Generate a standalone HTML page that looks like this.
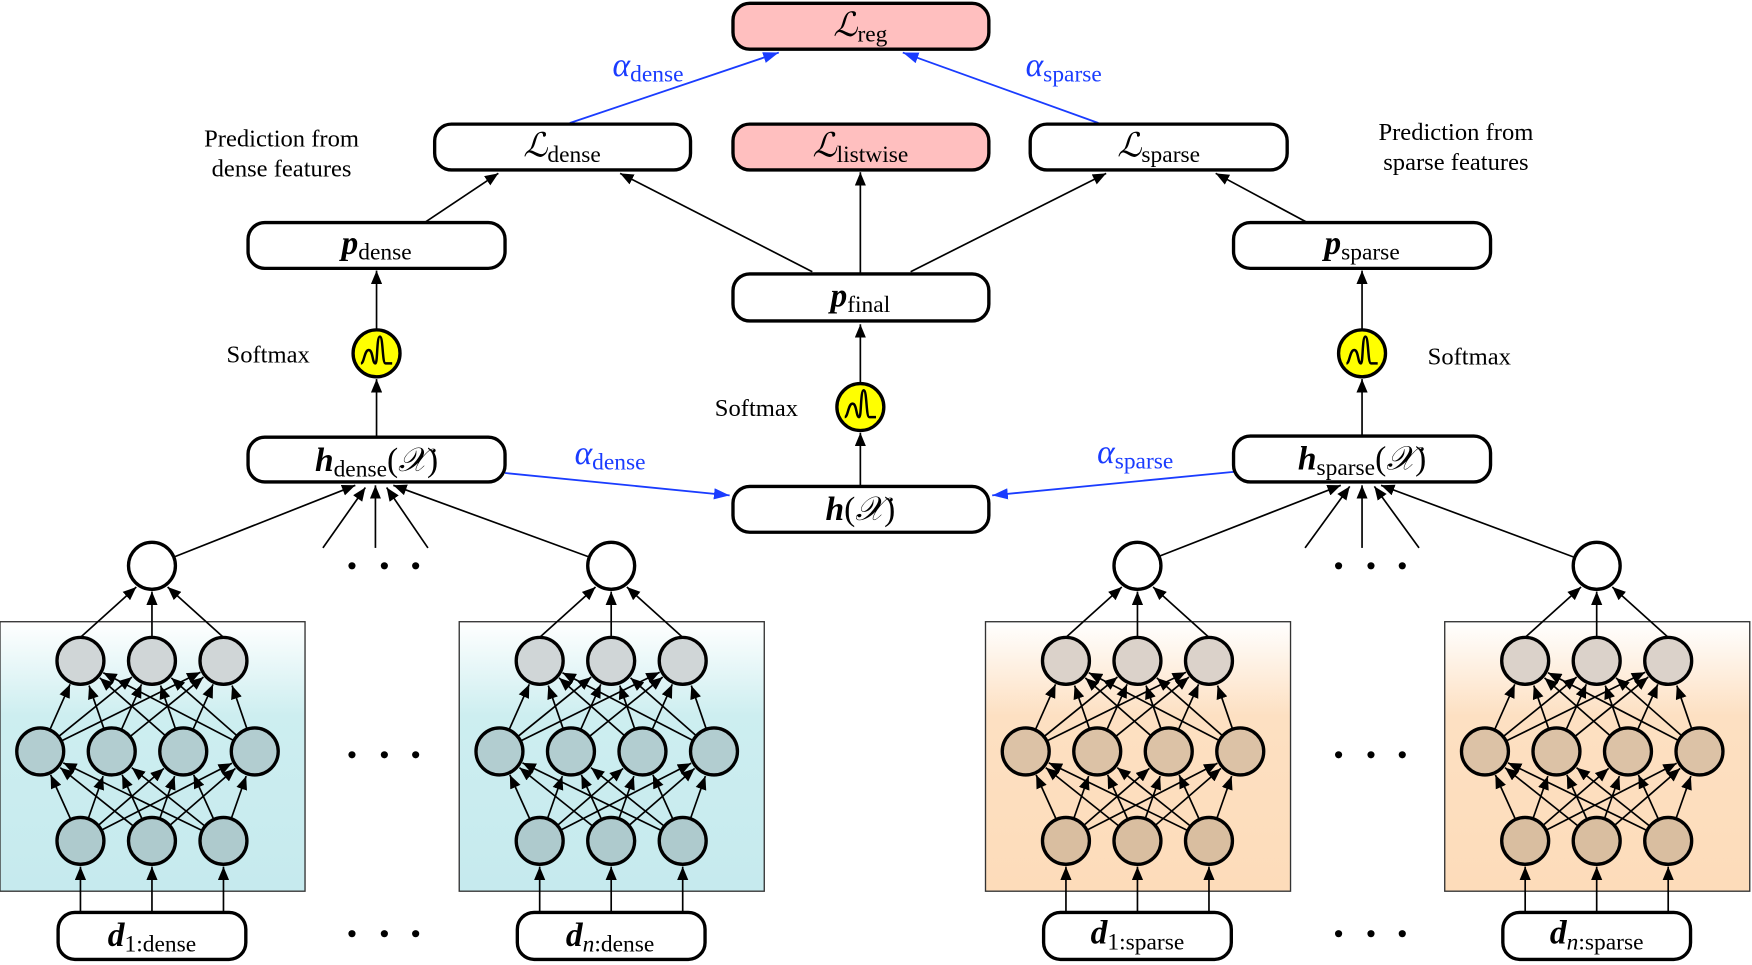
<!DOCTYPE html>
<html><head><meta charset="utf-8"><style>
html,body{margin:0;padding:0;background:#fff;width:1752px;height:965px;overflow:hidden}
svg{display:block}
text{font-family:"Liberation Serif","DejaVu Serif",serif;fill:#000}
.m{font-size:30px}
.s{font-size:21px}
.lbl{font-size:22px}
.b{fill:#1a3cff}
</style></head><body>
<svg width="1752" height="965" viewBox="0 0 1568 863" preserveAspectRatio="none" xmlns="http://www.w3.org/2000/svg">
<defs>
<marker id="ah" markerWidth="12" markerHeight="10" refX="12" refY="5" orient="auto" markerUnits="userSpaceOnUse"><path d="M0,0 L12,5 L0,10 Z" fill="#000"/></marker>
<marker id="ab" markerWidth="14" markerHeight="10" refX="14" refY="5" orient="auto" markerUnits="userSpaceOnUse"><path d="M0,0 L14,5 L0,10 Z" fill="#1a3cff"/></marker>
<linearGradient id="gD" x1="0" y1="0" x2="0" y2="1"><stop offset="0" stop-color="#ffffff"/><stop offset="0.35" stop-color="#cdeef0"/><stop offset="1" stop-color="#c6eaee"/></linearGradient>
<linearGradient id="gS" x1="0" y1="0" x2="0" y2="1"><stop offset="0" stop-color="#ffffff"/><stop offset="0.35" stop-color="#fde0c2"/><stop offset="1" stop-color="#fddcba"/></linearGradient>
<g id="lines" stroke="#000" stroke-width="1.5" marker-end="url(#ah)">
<line x1="36" y1="116" x2="62.7" y2="56"/><line x1="36" y1="116" x2="118.1" y2="49.5"/><line x1="36" y1="116" x2="179.4" y2="45.2"/>
<line x1="100" y1="116" x2="79.7" y2="57.1"/><line x1="100" y1="116" x2="126.7" y2="56"/><line x1="100" y1="116" x2="182.1" y2="49.5"/>
<line x1="164" y1="116" x2="89.3" y2="50.2"/><line x1="164" y1="116" x2="143.7" y2="57.1"/><line x1="164" y1="116" x2="190.7" y2="56"/>
<line x1="228" y1="116" x2="92.4" y2="45.6"/><line x1="228" y1="116" x2="153.3" y2="50.2"/><line x1="228" y1="116" x2="207.7" y2="57.1"/>
<line x1="72" y1="196" x2="45.3" y2="137"/><line x1="72" y1="196" x2="92.3" y2="138.1"/><line x1="72" y1="196" x2="146.7" y2="131.2"/><line x1="72" y1="196" x2="207.6" y2="126.6"/>
<line x1="136" y1="196" x2="53.9" y2="130.5"/><line x1="136" y1="196" x2="109.3" y2="137"/><line x1="136" y1="196" x2="156.3" y2="138.1"/><line x1="136" y1="196" x2="210.7" y2="131.2"/>
<line x1="200" y1="196" x2="56.6" y2="126.2"/><line x1="200" y1="196" x2="117.9" y2="130.5"/><line x1="200" y1="196" x2="173.3" y2="137"/><line x1="200" y1="196" x2="220.3" y2="138.1"/>
<line x1="72" y1="14" x2="122" y2="-31"/><line x1="136" y1="14" x2="136" y2="-27"/><line x1="200" y1="14" x2="150" y2="-31"/>
<line x1="72" y1="260" x2="72" y2="219"/><line x1="136" y1="260" x2="136" y2="219"/><line x1="200" y1="260" x2="200" y2="219"/>
</g>
<g id="netD">
<rect x="0" y="0" width="273" height="241" fill="url(#gD)" stroke="#333" stroke-width="1.2"/>
<use href="#lines"/>
<g stroke="#000" stroke-width="3">
<circle cx="72" cy="35" r="21" fill="#d0d6d7"/><circle cx="136" cy="35" r="21" fill="#d0d6d7"/><circle cx="200" cy="35" r="21" fill="#d0d6d7"/>
<circle cx="36" cy="116" r="21" fill="#b2cdd0"/><circle cx="100" cy="116" r="21" fill="#b2cdd0"/><circle cx="164" cy="116" r="21" fill="#b2cdd0"/><circle cx="228" cy="116" r="21" fill="#b2cdd0"/>
<circle cx="72" cy="196" r="21" fill="#aecacd"/><circle cx="136" cy="196" r="21" fill="#aecacd"/><circle cx="200" cy="196" r="21" fill="#aecacd"/>
<circle cx="136" cy="-50" r="21" fill="#fff"/>
<rect x="52" y="260" width="168" height="42" rx="15" fill="#fff"/>
</g>
</g>
<g id="netS">
<rect x="0" y="0" width="273" height="241" fill="url(#gS)" stroke="#333" stroke-width="1.2"/>
<use href="#lines"/>
<g stroke="#000" stroke-width="3">
<circle cx="72" cy="35" r="21" fill="#dbd2ca"/><circle cx="136" cy="35" r="21" fill="#dbd2ca"/><circle cx="200" cy="35" r="21" fill="#dbd2ca"/>
<circle cx="36" cy="116" r="21" fill="#dcc2a6"/><circle cx="100" cy="116" r="21" fill="#dcc2a6"/><circle cx="164" cy="116" r="21" fill="#dcc2a6"/><circle cx="228" cy="116" r="21" fill="#dcc2a6"/>
<circle cx="72" cy="196" r="21" fill="#d9bea0"/><circle cx="136" cy="196" r="21" fill="#d9bea0"/><circle cx="200" cy="196" r="21" fill="#d9bea0"/>
<circle cx="136" cy="-50" r="21" fill="#fff"/>
<rect x="52" y="260" width="168" height="42" rx="15" fill="#fff"/>
</g>
</g>
<g id="soft">
<circle cx="0" cy="0" r="21" fill="#ffff00" stroke="#000" stroke-width="3"/>
<path d="M-14,9 C-11,9 -11,-3 -7,-3 C-3,-3 -4,9 -1,9 C1,9 0,-15 3,-15 C6,-15 5,9 8,9 L14,9" fill="none" stroke="#000" stroke-width="2.2"/>
</g>
<g id="dots"><circle cx="315" cy="0" r="3.2"/><circle cx="344" cy="0" r="3.2"/><circle cx="372" cy="0" r="3.2"/></g>
</defs>

<use href="#netD" transform="translate(0,556)"/>
<use href="#netD" transform="translate(411,556)"/>
<use href="#netS" transform="translate(882,556)"/>
<use href="#netS" transform="translate(1293,556)"/>

<use href="#dots" transform="translate(0,506)"/>
<use href="#dots" transform="translate(0,675)"/>
<use href="#dots" transform="translate(0,835)"/>
<use href="#dots" transform="translate(883,506)"/>
<use href="#dots" transform="translate(883,675)"/>
<use href="#dots" transform="translate(883,835)"/>

<g stroke="#000" stroke-width="1.5" marker-end="url(#ah)" fill="none">
<line x1="156" y1="498" x2="318" y2="434"/>
<line x1="527" y1="498" x2="352" y2="434"/>
<line x1="289" y1="490" x2="327" y2="436"/>
<line x1="336" y1="490" x2="336" y2="434"/>
<line x1="383" y1="490" x2="346" y2="436"/>
<line x1="1036" y1="498" x2="1200" y2="434"/>
<line x1="1408" y1="498" x2="1236" y2="434"/>
<line x1="1168" y1="490" x2="1208" y2="435"/>
<line x1="1219" y1="490" x2="1219" y2="434"/>
<line x1="1270" y1="490" x2="1230" y2="435"/>
<line x1="337" y1="391" x2="337" y2="339"/>
<line x1="337" y1="295" x2="337" y2="242"/>
<line x1="1219" y1="390" x2="1219" y2="339"/>
<line x1="1219" y1="295" x2="1219" y2="242"/>
<line x1="770" y1="435" x2="770" y2="387"/>
<line x1="770" y1="343" x2="770" y2="290"/>
<line x1="380" y1="199" x2="446" y2="155"/>
<line x1="727" y1="243" x2="555" y2="155"/>
<line x1="770" y1="245" x2="770" y2="154"/>
<line x1="815" y1="243" x2="990" y2="155"/>
<line x1="1170" y1="199" x2="1088" y2="155"/>
</g>
<g stroke="#1a3cff" stroke-width="1.6" marker-end="url(#ab)">
<line x1="510" y1="110" x2="697" y2="47"/>
<line x1="983" y1="110" x2="808" y2="47"/>
<line x1="452" y1="423" x2="653" y2="443"/>
<line x1="1104" y1="422" x2="888" y2="443"/>
</g>

<g stroke="#000" stroke-width="3">
<rect x="656" y="3" width="229" height="41" rx="15" fill="#ffbfbf"/>
<rect x="389" y="111" width="229" height="41" rx="15" fill="#fff"/>
<rect x="656" y="111" width="229" height="41" rx="15" fill="#ffbfbf"/>
<rect x="922" y="111" width="230" height="41" rx="15" fill="#fff"/>
<rect x="222" y="199" width="230" height="41" rx="15" fill="#fff"/>
<rect x="1104" y="199" width="230" height="41" rx="15" fill="#fff"/>
<rect x="656" y="245" width="229" height="42" rx="15" fill="#fff"/>
<rect x="222" y="391" width="230" height="40" rx="15" fill="#fff"/>
<rect x="656" y="435" width="229" height="41" rx="15" fill="#fff"/>
<rect x="1104" y="390" width="230" height="41" rx="15" fill="#fff"/>
</g>

<use href="#soft" transform="translate(337,316)"/>
<use href="#soft" transform="translate(770,364)"/>
<use href="#soft" transform="translate(1219,316)"/>

<text x="770" y="32" text-anchor="middle"><tspan class="m" font-style="italic">ℒ</tspan><tspan class="s" dy="5">reg</tspan></text>
<text x="503" y="140" text-anchor="middle"><tspan class="m" font-style="italic">ℒ</tspan><tspan class="s" dy="5">dense</tspan></text>
<text x="770" y="140" text-anchor="middle"><tspan class="m" font-style="italic">ℒ</tspan><tspan class="s" dy="5">listwise</tspan></text>
<text x="1037" y="140" text-anchor="middle"><tspan class="m" font-style="italic">ℒ</tspan><tspan class="s" dy="5">sparse</tspan></text>
<text x="337" y="227" text-anchor="middle"><tspan class="m" font-style="italic" font-weight="bold">p</tspan><tspan class="s" dy="5">dense</tspan></text>
<text x="1219" y="227" text-anchor="middle"><tspan class="m" font-style="italic" font-weight="bold">p</tspan><tspan class="s" dy="5">sparse</tspan></text>
<text x="770" y="274" text-anchor="middle"><tspan class="m" font-style="italic" font-weight="bold">p</tspan><tspan class="s" dy="5">final</tspan></text>
<text x="337" y="421" text-anchor="middle"><tspan class="m" font-style="italic" font-weight="bold">h</tspan><tspan class="s" dy="5">dense</tspan><tspan class="m" dy="-5">(</tspan><tspan class="m" font-style="italic">𝒳</tspan><tspan class="m">)</tspan></text>
<text x="1219" y="420" text-anchor="middle"><tspan class="m" font-style="italic" font-weight="bold">h</tspan><tspan class="s" dy="5">sparse</tspan><tspan class="m" dy="-5">(</tspan><tspan class="m" font-style="italic">𝒳</tspan><tspan class="m">)</tspan></text>
<text x="770" y="465" text-anchor="middle"><tspan class="m" font-style="italic" font-weight="bold">h</tspan><tspan class="m">(</tspan><tspan class="m" font-style="italic">𝒳</tspan><tspan class="m">)</tspan></text>
<text x="136" y="846" text-anchor="middle"><tspan class="m" font-style="italic" font-weight="bold">d</tspan><tspan class="s" dy="5">1:dense</tspan></text>
<text x="546" y="846" text-anchor="middle"><tspan class="m" font-style="italic" font-weight="bold">d</tspan><tspan class="s" dy="5"><tspan font-style="italic">n</tspan>:dense</tspan></text>
<text x="1018" y="844" text-anchor="middle"><tspan class="m" font-style="italic" font-weight="bold">d</tspan><tspan class="s" dy="5">1:sparse</tspan></text>
<text x="1429" y="844" text-anchor="middle"><tspan class="m" font-style="italic" font-weight="bold">d</tspan><tspan class="s" dy="5"><tspan font-style="italic">n</tspan>:sparse</tspan></text>

<text x="580" y="68" text-anchor="middle" class="b"><tspan class="m b" font-style="italic">α</tspan><tspan class="s b" dy="5">dense</tspan></text>
<text x="952" y="68" text-anchor="middle" class="b"><tspan class="m b" font-style="italic">α</tspan><tspan class="s b" dy="5">sparse</tspan></text>
<text x="546" y="415" text-anchor="middle" class="b"><tspan class="m b" font-style="italic">α</tspan><tspan class="s b" dy="5">dense</tspan></text>
<text x="1016" y="414" text-anchor="middle" class="b"><tspan class="m b" font-style="italic">α</tspan><tspan class="s b" dy="5">sparse</tspan></text>

<text x="252" y="131" text-anchor="middle" class="lbl">Prediction from</text>
<text x="252" y="158" text-anchor="middle" class="lbl">dense features</text>
<text x="1303" y="125" text-anchor="middle" class="lbl">Prediction from</text>
<text x="1303" y="152" text-anchor="middle" class="lbl">sparse features</text>
<text x="240" y="324" text-anchor="middle" class="lbl">Softmax</text>
<text x="677" y="372" text-anchor="middle" class="lbl">Softmax</text>
<text x="1315" y="326" text-anchor="middle" class="lbl">Softmax</text>
</svg>
</body></html>
